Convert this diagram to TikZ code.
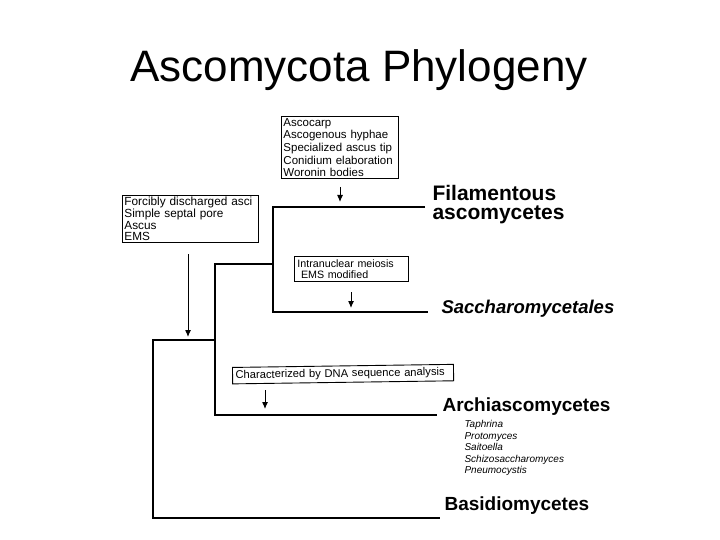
\documentclass[tikz,border=0pt]{standalone}
\usepackage{fontspec}
\setmainfont{Liberation Sans}
\usetikzlibrary{arrows.meta}
\begin{document}
\begin{tikzpicture}[x=1pt,y=-1pt,
  br/.style={line width=2pt},
  arr/.style={line width=1pt,-{Latex[length=7pt,width=6pt]}},
  bx/.style={draw,line width=0.9pt,align=left,anchor=north west,inner sep=3pt,font=\fontsize{11.5}{12.6}\selectfont},
  tax/.style={anchor=west,font=\fontsize{19}{20}\selectfont\bfseries},
  sp/.style={anchor=north west,align=left,font=\fontsize{10}{11.5}\selectfont\itshape}]
\useasboundingbox (0,0) rectangle (720,540);
\node (title) at (359,70) {\fontsize{44}{46}\selectfont Ascomycota Phylogeny};
% tree
\coordinate (r1) at (153,340); \coordinate (r2) at (153,518);
\coordinate (b2) at (215,340); \coordinate (bb) at (440,518);
\draw[br] (b2) -- (r1) -- (r2) -- (bb);
\coordinate (c1) at (215,264); \coordinate (c2) at (215,415); \coordinate (ca) at (437,415);
\coordinate (c1r) at (273,264);
\draw[br] (c1r) -- (c1) -- (c2) -- (ca);
\coordinate (d1) at (273,207); \coordinate (d2) at (273,312);
\coordinate (df) at (425,207); \coordinate (ds) at (428,312);
\draw[br] (df) -- (d1) -- (d2) -- (ds);
% boxes
\node[bx,text width=113pt,inner sep=2pt] (box1) at (281,116) {Ascocarp\\Ascogenous hyphae\\Specialized ascus tip\\Conidium elaboration\\Woronin bodies};
\node[bx,text width=132pt,inner sep=2pt,font=\fontsize{11.8}{11.6}\selectfont] (box2) at (122,195) {Forcibly discharged asci\\Simple septal pore\\Ascus\\EMS};
\node[bx,text width=108pt,font=\fontsize{10.7}{11.5}\selectfont] (box3) at (294,256) {Intranuclear meiosis\\\ EMS modified};
\node[bx,rotate=0.8,text width=215pt,font=\fontsize{11.2}{12}\selectfont] (box4) at (232,367) {Characterized by DNA sequence analysis};
% arrows
\coordinate (a1) at (340,187); \coordinate (a1e) at (340,202);
\draw[arr] (a1) -- (a1e);
\coordinate (a2) at (188,254); \coordinate (a2e) at (188,337);
\draw[arr] (a2) -- (a2e);
\coordinate (a3) at (351,292); \coordinate (a3e) at (351,308);
\draw[arr] (a3) -- (a3e);
\coordinate (a4) at (265,390); \coordinate (a4e) at (265,409);
\draw[arr] (a4) -- (a4e);
% labels
\node[anchor=north west,align=left,font=\fontsize{21}{19}\selectfont\bfseries] (fil) at (429,182) {Filamentous\\ascomycetes};
\node[tax,font=\fontsize{18.5}{20}\selectfont\bfseries\itshape] (sac) at (438,309) {Saccharomycetales};
\node[tax] (arc) at (439,407) {Archiascomycetes};
\node[sp] (spp) at (461,417) {Taphrina\\Protomyces\\Saitoella\\Schizosaccharomyces\\Pneumocystis};
\node[tax] (bas) at (441,506) {Basidiomycetes};
\end{tikzpicture}
\end{document}
